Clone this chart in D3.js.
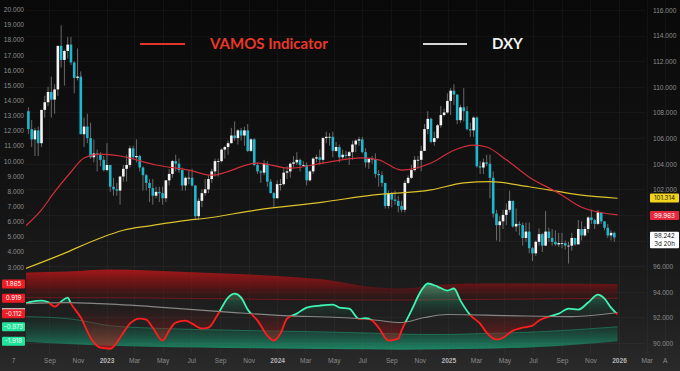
<!DOCTYPE html>
<meta charset="utf-8">
<style>
body { margin: 0; background: #0c0c0c; }
svg { display: block; font-family: "Inter", "Noto Sans", sans-serif; }
.ax text { fill: #8c8c8c; font-size: 6.6px; }
.ax .domain { display: none; }
</style>
<body></body>
<script src="https://cdn.jsdelivr.net/npm/d3@7"></script>
<script>

// DXY weekly candles, first week starts Mon 18 Jul 2022 (open = previous close)
var firstOpen = 108.1;
var close2022 = [106.7,105.9,106.6,105.6,108.2,108.8,109.6,109.0,109.8,113.2,112.1,112.8,113.3,111.9,110.7,110.8,106.3,106.9,106.0,104.5,104.8,104.7,104.3,103.5];
var high2022  = [108.4,107.4,106.8,106.9,108.2,109.3,110.0,110.8,110.2,113.2,114.8,112.9,113.9,113.9,112.0,113.0,111.2,107.6,107.9,107.2,105.9,105.1,104.9,104.6];
var low2022   = [106.3,105.3,104.6,104.6,105.3,107.6,108.5,107.6,107.9,109.3,111.5,110.1,112.2,111.7,109.5,110.5,106.3,105.3,105.6,104.4,104.1,103.4,103.8,103.4];

var close2023 = [103.9,102.2,102.0,101.9,103.0,103.6,103.9,105.2,104.5,104.6,103.7,103.1,102.5,102.1,101.5,101.8,101.7,101.3,102.7,103.2,104.2,104.0,103.5,102.3,102.9,102.9,102.3,99.9,101.1,101.7,102.0,102.8,103.4,104.2,104.2,105.1,105.3,105.6,106.2,106.0,106.6,106.2,106.6,105.0,105.9,103.9,103.4,103.3,104.0,102.6,101.7,101.3];
var high2023  = [105.6,103.9,102.9,102.5,103.0,103.9,104.7,105.4,105.4,105.9,104.7,103.8,103.2,102.8,102.8,102.2,102.2,102.2,102.7,103.6,104.3,104.7,104.4,103.7,103.0,103.5,103.6,102.3,101.3,102.0,102.8,103.1,103.6,104.4,104.4,105.2,105.4,105.8,106.8,107.3,106.7,106.8,106.9,107.1,106.0,106.0,104.1,103.5,104.3,104.2,102.8,101.8];
var low2023   = [103.4,101.8,101.5,101.5,100.8,102.6,102.6,103.7,104.3,104.1,103.4,101.9,101.9,101.0,100.8,101.3,101.0,100.8,101.0,102.3,102.9,103.4,103.3,101.9,101.9,102.4,102.2,99.6,99.6,100.6,101.5,101.7,102.5,103.0,103.0,104.1,104.4,104.7,105.6,105.8,105.5,105.8,105.4,104.9,104.9,103.8,103.2,102.5,103.1,102.2,101.7,100.6];

var close2024 = [102.4,102.4,103.3,103.4,104.0,104.1,104.3,103.9,103.9,102.7,103.4,104.4,104.5,104.3,106.0,106.1,106.1,105.0,105.3,104.5,104.7,104.6,104.9,105.5,105.8,105.9,104.9,104.1,104.4,104.3,103.2,103.1,102.5,100.7,101.7,101.2,101.1,100.7,100.4,102.5,102.9,103.5,104.3,104.3,105.0,106.7,107.5,105.7,106.0,107.0,107.8,108.0,108.9];
var high2024  = [102.7,102.8,103.7,103.8,104.1,104.6,104.9,104.4,104.2,104.1,103.5,104.5,104.7,105.1,106.1,106.5,106.4,106.5,105.7,105.5,105.1,105.0,105.0,105.8,105.9,106.1,106.1,105.2,104.4,104.6,104.8,103.5,103.4,102.3,101.9,101.8,101.9,101.5,101.1,102.7,103.1,103.9,104.6,104.6,105.4,107.1,108.1,107.6,106.5,107.1,108.5,108.3,109.5];
var low2024   = [101.3,101.9,102.3,102.8,102.9,103.7,103.9,103.4,103.8,102.3,102.6,103.2,104.1,103.9,104.0,105.6,105.4,104.5,104.9,104.1,104.3,104.4,103.9,104.3,104.9,105.4,104.8,103.7,103.6,104.0,102.9,102.2,102.2,100.5,100.5,100.6,100.8,100.2,100.2,100.2,102.4,102.8,103.4,103.6,103.4,105.0,106.3,105.6,105.4,105.9,106.8,107.7,107.9];

var close2025 = [109.7,109.4,107.4,108.4,108.1,106.7,106.6,107.6,103.8,103.7,104.1,104.0,102.9,100.1,99.2,99.5,100.0,100.4,101.1,99.1,99.3,99.2,98.2,98.7,97.4,97.0,97.9,98.5,97.6,98.7,98.2,97.9,97.7,97.8,97.8,97.6,97.6,98.2,97.7,98.9,98.4,98.9,99.8,99.6,99.3,100.2,99.5,99.0,98.4,98.6,98.24];
var high2025  = [109.9,110.2,109.4,108.6,109.9,108.5,107.2,107.7,107.7,104.2,104.4,104.7,104.7,103.4,100.4,99.9,100.4,100.9,101.9,101.1,100.5,99.5,99.4,99.4,99.4,97.5,98.0,98.95,98.6,100.3,99.0,98.9,98.8,98.6,98.6,98.0,97.9,98.6,98.2,99.6,99.5,99.1,99.9,100.4,99.7,100.4,100.2,99.5,99.3,98.8,98.7];
var low2025   = [107.8,108.6,107.1,107.2,107.3,106.6,106.1,106.1,103.7,103.2,103.2,103.8,101.3,99.8,98.0,97.9,98.9,99.2,100.2,99.0,98.7,98.4,97.6,97.9,97.0,96.4,96.8,97.6,97.1,97.6,97.9,97.6,97.6,97.5,97.4,97.3,96.2,97.2,97.6,97.8,98.0,98.3,98.6,99.3,98.9,99.2,99.3,98.8,98.2,98.0,97.9];

// moving averages on the DXY scale (week index, value)
var redMaWeeks  = [-1, 4, 8, 13, 17, 22, 28, 39, 49, 56, 70, 80, 90, 102, 107, 114, 123, 130, 136, 140, 146, 153, 162, 169, 180];
var redMaVals   = [99.1, 100.4, 101.8, 103.35, 104.45, 104.75, 104.6, 103.9, 103.5, 103.1, 104.05, 103.65, 104.05, 104.45, 104.3, 103.5, 104.05, 105.05, 105.45, 105.3, 104.3, 102.95, 101.7, 100.6, 100.0];
var yelMaWeeks  = [-1, 10, 22, 29, 37, 49, 53, 70, 90, 105, 123, 133, 141, 153, 169, 180];
var yelMaVals   = [95.8, 96.9, 98.2, 98.8, 99.15, 99.6, 99.7, 100.4, 101.0, 101.55, 101.95, 102.5, 102.6, 102.2, 101.55, 101.3];

// VAMOS indicator bands (left scale)
var bandWeeks  = [-1, 12, 25, 37, 52, 68, 83, 93, 104, 114, 126, 138, 156, 180];
var redOuter   = [2.61, 2.68, 2.81, 2.75, 2.61, 2.48, 2.28, 2.08, 1.68, 1.56, 1.80, 1.89, 1.89, 1.86];
var redInner   = [0.95, 0.95, 0.95, 0.93, 0.90, 0.86, 0.82, 0.80, 0.80, 0.80, 0.82, 0.84, 0.87, 0.92];
var greenInner = [-0.30, -0.43, -0.90, -1.05, -1.15, -1.22, -1.28, -1.32, -1.38, -1.45, -1.48, -1.42, -1.30, -0.97];
var greenOuter = [-1.95, -2.10, -2.22, -2.28, -2.33, -2.38, -2.42, -2.44, -2.46, -2.48, -2.46, -2.42, -2.30, -1.92];

var midWeeks = [-1, 12, 22, 42, 63, 78, 95, 105, 114, 121, 128, 146, 166, 180];
var midVals  = [0.56, 0.63, 0.56, 0.30, -0.03, -0.23, -0.36, -0.50, -0.69, -0.36, -0.16, -0.23, -0.30, -0.03];

var oscWeeks = [-1, 1, 4, 6, 8, 10, 12, 13, 16, 19, 22, 25, 28, 31, 34, 36, 38, 41, 43, 45, 48, 50, 53, 55, 58, 61, 63, 65, 67, 70, 73, 75, 77, 79, 82, 85, 89, 93, 95, 98, 101, 103, 105, 107, 110, 113, 114, 117, 120, 122, 125, 128, 130, 132, 135, 138, 140, 143, 145, 148, 151, 154, 156, 159, 162, 165, 168, 171, 174, 176, 178, 180];
var oscVals  = [0.56, 0.70, 0.76, 0.66, 0.36, 0.70, 0.96, 0.56, -0.36, -1.69, -2.35, -2.42, -1.69, -0.76, -0.43, -0.50, -1.03, -1.88, -1.22, -0.69, -0.56, -0.76, -1.09, -1.03, -0.10, 0.96, 1.22, 0.96, 0.17, -0.56, -1.55, -1.88, -1.42, -0.43, -0.10, 0.30, 0.43, 0.50, 0.30, 0.23, -0.45, -0.40, -0.55, -1.03, -1.88, -1.75, -1.22, 0.10, 1.42, 1.89, 1.69, 1.42, 1.56, 0.76, -0.20, -0.76, -1.36, -1.82, -1.69, -1.22, -1.03, -0.89, -0.56, -0.30, -0.10, 0.23, 0.17, 0.63, 1.15, 0.89, 0.30, -0.16];

var leftBadges = [
  {v: 1.865, t: "1.865", c: "#ee1c24", tc: "#fff"},
  {v: 0.919, t: "0.919", c: "#ee1c24", tc: "#fff"},
  {v: -0.112, t: "-0.112", c: "#ee1c24", tc: "#fff"},
  {v: -0.973, t: "-0.973", c: "#22e39c", tc: "#eafff6"},
  {v: -1.918, t: "-1.918", c: "#22e39c", tc: "#eafff6"}
];

// right axis ticks (100 and 98 sit under the value badges)
var rightTicks = [90, 92, 94, 96, 102, 104, 106, 108, 110, 112, 114, 116];
var leftTicks = d3.range(3, 21);

var tickDates  = ["2022-06-15","2022-09-01","2022-11-01","2023-01-01","2023-03-01","2023-05-01","2023-07-01","2023-09-01","2023-11-01","2024-01-01","2024-03-01","2024-05-01","2024-07-01","2024-09-01","2024-11-01","2025-01-01","2025-03-01","2025-05-01","2025-07-01","2025-09-01","2025-11-01","2026-01-01","2026-03-01","2026-04-09"];
var tickLabels = ["7","Sep","Nov","2023","Mar","May","Jul","Sep","Nov","2024","Mar","May","Jul","Sep","Nov","2025","Mar","May","Jul","Sep","Nov","2026","Mar","A"];

var W = 680, H = 371;
var parse = d3.timeParse("%Y-%m-%d");
var week0 = new Date(2022, 6, 18);
function wk(k) { return d3.timeDay.offset(week0, 7 * k); }

var x = d3.scaleTime()
    .domain([new Date(2023, 0, 1), new Date(2026, 0, 1)])
    .range([106.5, 619]);
var yR = d3.scaleLinear().domain([90, 116]).range([343, 10]);
var yL = d3.scaleLinear().domain([3, 20]).range([266.7, 9.3]);
function xk(k) { return x(wk(k)); }

var svg = d3.select("body").append("svg")
    .attr("width", W)
    .attr("height", H);
var defs = svg.append("defs");

function vGrad(id, y1, y2, stops) {
  var g = defs.append("linearGradient").attr("id", id)
      .attr("gradientUnits", "userSpaceOnUse")
      .attr("x1", 0).attr("x2", 0).attr("y1", y1).attr("y2", y2);
  stops.forEach(function(s) {
    g.append("stop").attr("offset", s[0]).attr("stop-color", s[1]).attr("stop-opacity", s[2]);
  });
}
vGrad("bg", 0, H, [[0, "#090909", 1], [0.55, "#141414", 1], [0.85, "#1f1f1f", 1], [1, "#2a2a2a", 1]]);
vGrad("redBand", 268, 300, [[0, "#c4171a", 0.85], [0.55, "#8c0f12", 0.6], [1, "#5a0a0a", 0.12]]);
vGrad("greenBand", 318, 350, [[0, "#0d4a38", 0.12], [0.6, "#15795a", 0.55], [1, "#1c9a70", 0.85]]);
vGrad("oscGreen", 282, 318, [[0, "#36e8a8", 0.55], [1, "#1a6e50", 0.04]]);
vGrad("oscRed", 308, 350, [[0, "#7a1010", 0.04], [1, "#d01616", 0.6]]);

svg.append("rect").attr("width", W).attr("height", H).attr("fill", "url(#bg)");

defs.append("clipPath").attr("id", "plot")
  .append("rect").attr("x", 26).attr("y", 0).attr("width", 602).attr("height", 352);

// grid
var tDates = tickDates.map(parse);
var grid = svg.append("g").attr("stroke", "#ffffff").attr("stroke-opacity", 0.035).attr("stroke-width", 1);
grid.selectAll("line.v").data(tDates.slice(1)).enter().append("line")
    .attr("x1", function(d) { return Math.round(x(d)) + 0.5; })
    .attr("x2", function(d) { return Math.round(x(d)) + 0.5; })
    .attr("y1", 0).attr("y2", 354);
grid.selectAll("line.h").data(d3.range(90, 117, 2)).enter().append("line")
    .attr("x1", 26).attr("x2", 645)
    .attr("y1", function(d) { return Math.round(yR(d)) + 0.5; })
    .attr("y2", function(d) { return Math.round(yR(d)) + 0.5; });

var plot = svg.append("g").attr("clip-path", "url(#plot)");

// indicator bands
function zip(ws, vs) { return ws.map(function(w, i) { return {k: w, v: vs[i]}; }); }
var bandData = bandWeeks.map(function(w, i) {
  return {k: w, ro: redOuter[i], ri: redInner[i], gi: greenInner[i], go: greenOuter[i]};
});
var curve = d3.curveMonotoneX;

plot.append("path").datum(bandData)
    .attr("fill", "url(#redBand)")
    .attr("d", d3.area().curve(curve).x(function(d) { return xk(d.k); })
      .y0(function(d) { return yL(d.ri); }).y1(function(d) { return yL(d.ro); }));
plot.append("path").datum(bandData)
    .attr("fill", "url(#greenBand)")
    .attr("d", d3.area().curve(curve).x(function(d) { return xk(d.k); })
      .y0(function(d) { return yL(d.go); }).y1(function(d) { return yL(d.gi); }));
plot.append("path").datum(bandData)
    .attr("fill", "none").attr("stroke", "#b3161c").attr("stroke-opacity", 0.7).attr("stroke-width", 0.8)
    .attr("d", d3.line().curve(curve).x(function(d) { return xk(d.k); }).y(function(d) { return yL(d.ri); }));
plot.append("path").datum(bandData)
    .attr("fill", "none").attr("stroke", "#1f8a66").attr("stroke-opacity", 0.8).attr("stroke-width", 0.8)
    .attr("d", d3.line().curve(curve).x(function(d) { return xk(d.k); }).y(function(d) { return yL(d.gi); }));

// oscillator, green above the midline, red below
var mid = zip(midWeeks, midVals);
var osc = zip(oscWeeks, oscVals);

defs.append("clipPath").attr("id", "aboveMid").append("path").datum(mid)
    .attr("d", d3.area().curve(curve).x(function(d) { return xk(d.k); })
      .y0(0).y1(function(d) { return yL(d.v); }));
defs.append("clipPath").attr("id", "belowMid").append("path").datum(mid)
    .attr("d", d3.area().curve(curve).x(function(d) { return xk(d.k); })
      .y0(function(d) { return yL(d.v); }).y1(H));

var oscLine = d3.line().curve(curve).x(function(d) { return xk(d.k); }).y(function(d) { return yL(d.v); });

plot.append("path").datum(osc).attr("clip-path", "url(#aboveMid)")
    .attr("fill", "url(#oscGreen)")
    .attr("d", d3.area().curve(curve).x(function(d) { return xk(d.k); })
      .y0(H).y1(function(d) { return yL(d.v); }));
plot.append("path").datum(osc).attr("clip-path", "url(#belowMid)")
    .attr("fill", "url(#oscRed)")
    .attr("d", d3.area().curve(curve).x(function(d) { return xk(d.k); })
      .y0(0).y1(function(d) { return yL(d.v); }));

plot.append("path").datum(mid)
    .attr("fill", "none").attr("stroke", "#a8a8a8").attr("stroke-opacity", 0.75).attr("stroke-width", 1.1)
    .attr("d", oscLine);

plot.append("path").datum(osc).attr("clip-path", "url(#aboveMid)")
    .attr("fill", "none").attr("stroke", "#3ff3b2").attr("stroke-width", 1.8)
    .attr("stroke-linejoin", "round").attr("d", oscLine);
plot.append("path").datum(osc).attr("clip-path", "url(#belowMid)")
    .attr("fill", "none").attr("stroke", "#ff1e1e").attr("stroke-width", 1.8)
    .attr("stroke-linejoin", "round").attr("d", oscLine);

// candles
var closes = close2022.concat(close2023, close2024, close2025);
var highs = high2022.concat(high2023, high2024, high2025);
var lows = low2022.concat(low2023, low2024, low2025);
var candles = closes.map(function(c, i) {
  return {k: i, o: i ? closes[i - 1] : firstOpen, h: highs[i], l: lows[i], c: c};
});

var cg = plot.append("g");
cg.selectAll("line").data(candles).enter().append("line")
    .attr("x1", function(d) { return xk(d.k); })
    .attr("x2", function(d) { return xk(d.k); })
    .attr("y1", function(d) { return yR(d.h); })
    .attr("y2", function(d) { return yR(d.l); })
    .attr("stroke", "#808080").attr("stroke-width", 0.8);
cg.selectAll("rect").data(candles).enter().append("rect")
    .attr("x", function(d) { return xk(d.k) - 1.3; })
    .attr("width", 2.6)
    .attr("y", function(d) { return yR(Math.max(d.o, d.c)); })
    .attr("height", function(d) { return Math.max(0.8, Math.abs(yR(d.o) - yR(d.c))); })
    .attr("fill", function(d) { return d.c >= d.o ? "#f4f4f4" : "#1fb7cd"; });

// moving averages
var maLine = d3.line().curve(d3.curveMonotoneX).x(function(d) { return xk(d.k); }).y(function(d) { return yR(d.v); });
plot.append("path").datum(zip(yelMaWeeks, yelMaVals))
    .attr("fill", "none").attr("stroke", "#dcc22c").attr("stroke-width", 1.2).attr("d", maLine);
plot.append("path").datum(zip(redMaWeeks, redMaVals))
    .attr("fill", "none").attr("stroke", "#cf2f3a").attr("stroke-width", 1.2).attr("d", maLine);

// legend
svg.append("line").attr("x1", 140).attr("x2", 185).attr("y1", 44).attr("y2", 44)
    .attr("stroke", "#e3342a").attr("stroke-width", 2);
svg.append("text").attr("x", 210).attr("y", 49).text("VAMOS Indicator")
    .attr("fill", "#e8382a").style("font-family", "Lato, sans-serif").style("font-size", "15px").style("font-weight", 700);
svg.append("line").attr("x1", 423).attr("x2", 467).attr("y1", 44).attr("y2", 44)
    .attr("stroke", "#d6d6d6").attr("stroke-width", 2);
svg.append("text").attr("x", 492).attr("y", 49).text("DXY")
    .attr("fill", "#f2f2f2").style("font-family", "Lato, sans-serif").style("font-size", "15px").style("font-weight", 700);

// axes
svg.append("g").attr("class", "ax").attr("transform", "translate(24,0)")
    .call(d3.axisLeft(yL).tickValues(leftTicks).tickFormat(d3.format(".3f")).tickSize(0).tickPadding(0))
    .selectAll("text").attr("dy", "0.35em");
svg.append("g").attr("class", "ax").attr("transform", "translate(653,0)")
    .call(d3.axisRight(yR).tickValues(rightTicks).tickFormat(d3.format(".3f")).tickSize(0).tickPadding(0))
    .selectAll("text").attr("dy", "0.35em");
var xa = svg.append("g").attr("class", "ax").attr("transform", "translate(0,358)")
    .call(d3.axisBottom(x).tickValues(tDates).tickSize(0).tickPadding(0)
      .tickFormat(function(d, i) { return tickLabels[i]; }));
xa.selectAll("text")
    .attr("dy", "0.71em")
    .style("font-weight", function(d, i) { return /^\d{4}$/.test(tickLabels[i]) ? 700 : 400; })
    .style("fill", function(d, i) { return /^\d{4}$/.test(tickLabels[i]) ? "#b4b4b4" : "#8c8c8c"; });

// value badges
function badge(xp, yc, w, h, fill, lines, tc) {
  svg.append("rect").attr("x", xp).attr("y", yc - h / 2).attr("width", w).attr("height", h)
      .attr("rx", 1).attr("fill", fill);
  lines.forEach(function(t, i) {
    svg.append("text").attr("x", xp + w / 2).attr("y", yc - (lines.length - 1) * 4 + i * 8)
        .attr("dy", "0.35em").attr("text-anchor", "middle")
        .style("font-size", "6.2px").attr("fill", tc).text(t);
  });
}
badge(650, yR(101.314), 29, 9, "#f3d41d", ["101.314"], "#1a1a1a");
badge(650, yR(99.963), 29, 9, "#e5293c", ["99.963"], "#ffffff");
badge(650, yR(98.242) + 2.6, 29, 16.5, "#ffffff", ["98.242", "3d 20h"], "#111111");

svg.append("rect").attr("x", 2).attr("y", yL(-0.112) - 5.8).attr("width", 23).attr("height", 9)
    .attr("fill", "#bdbdbd");
leftBadges.forEach(function(b) {
  badge(2, yL(b.v), 23, 9, b.c, [b.t], b.tc);
});

</script>
